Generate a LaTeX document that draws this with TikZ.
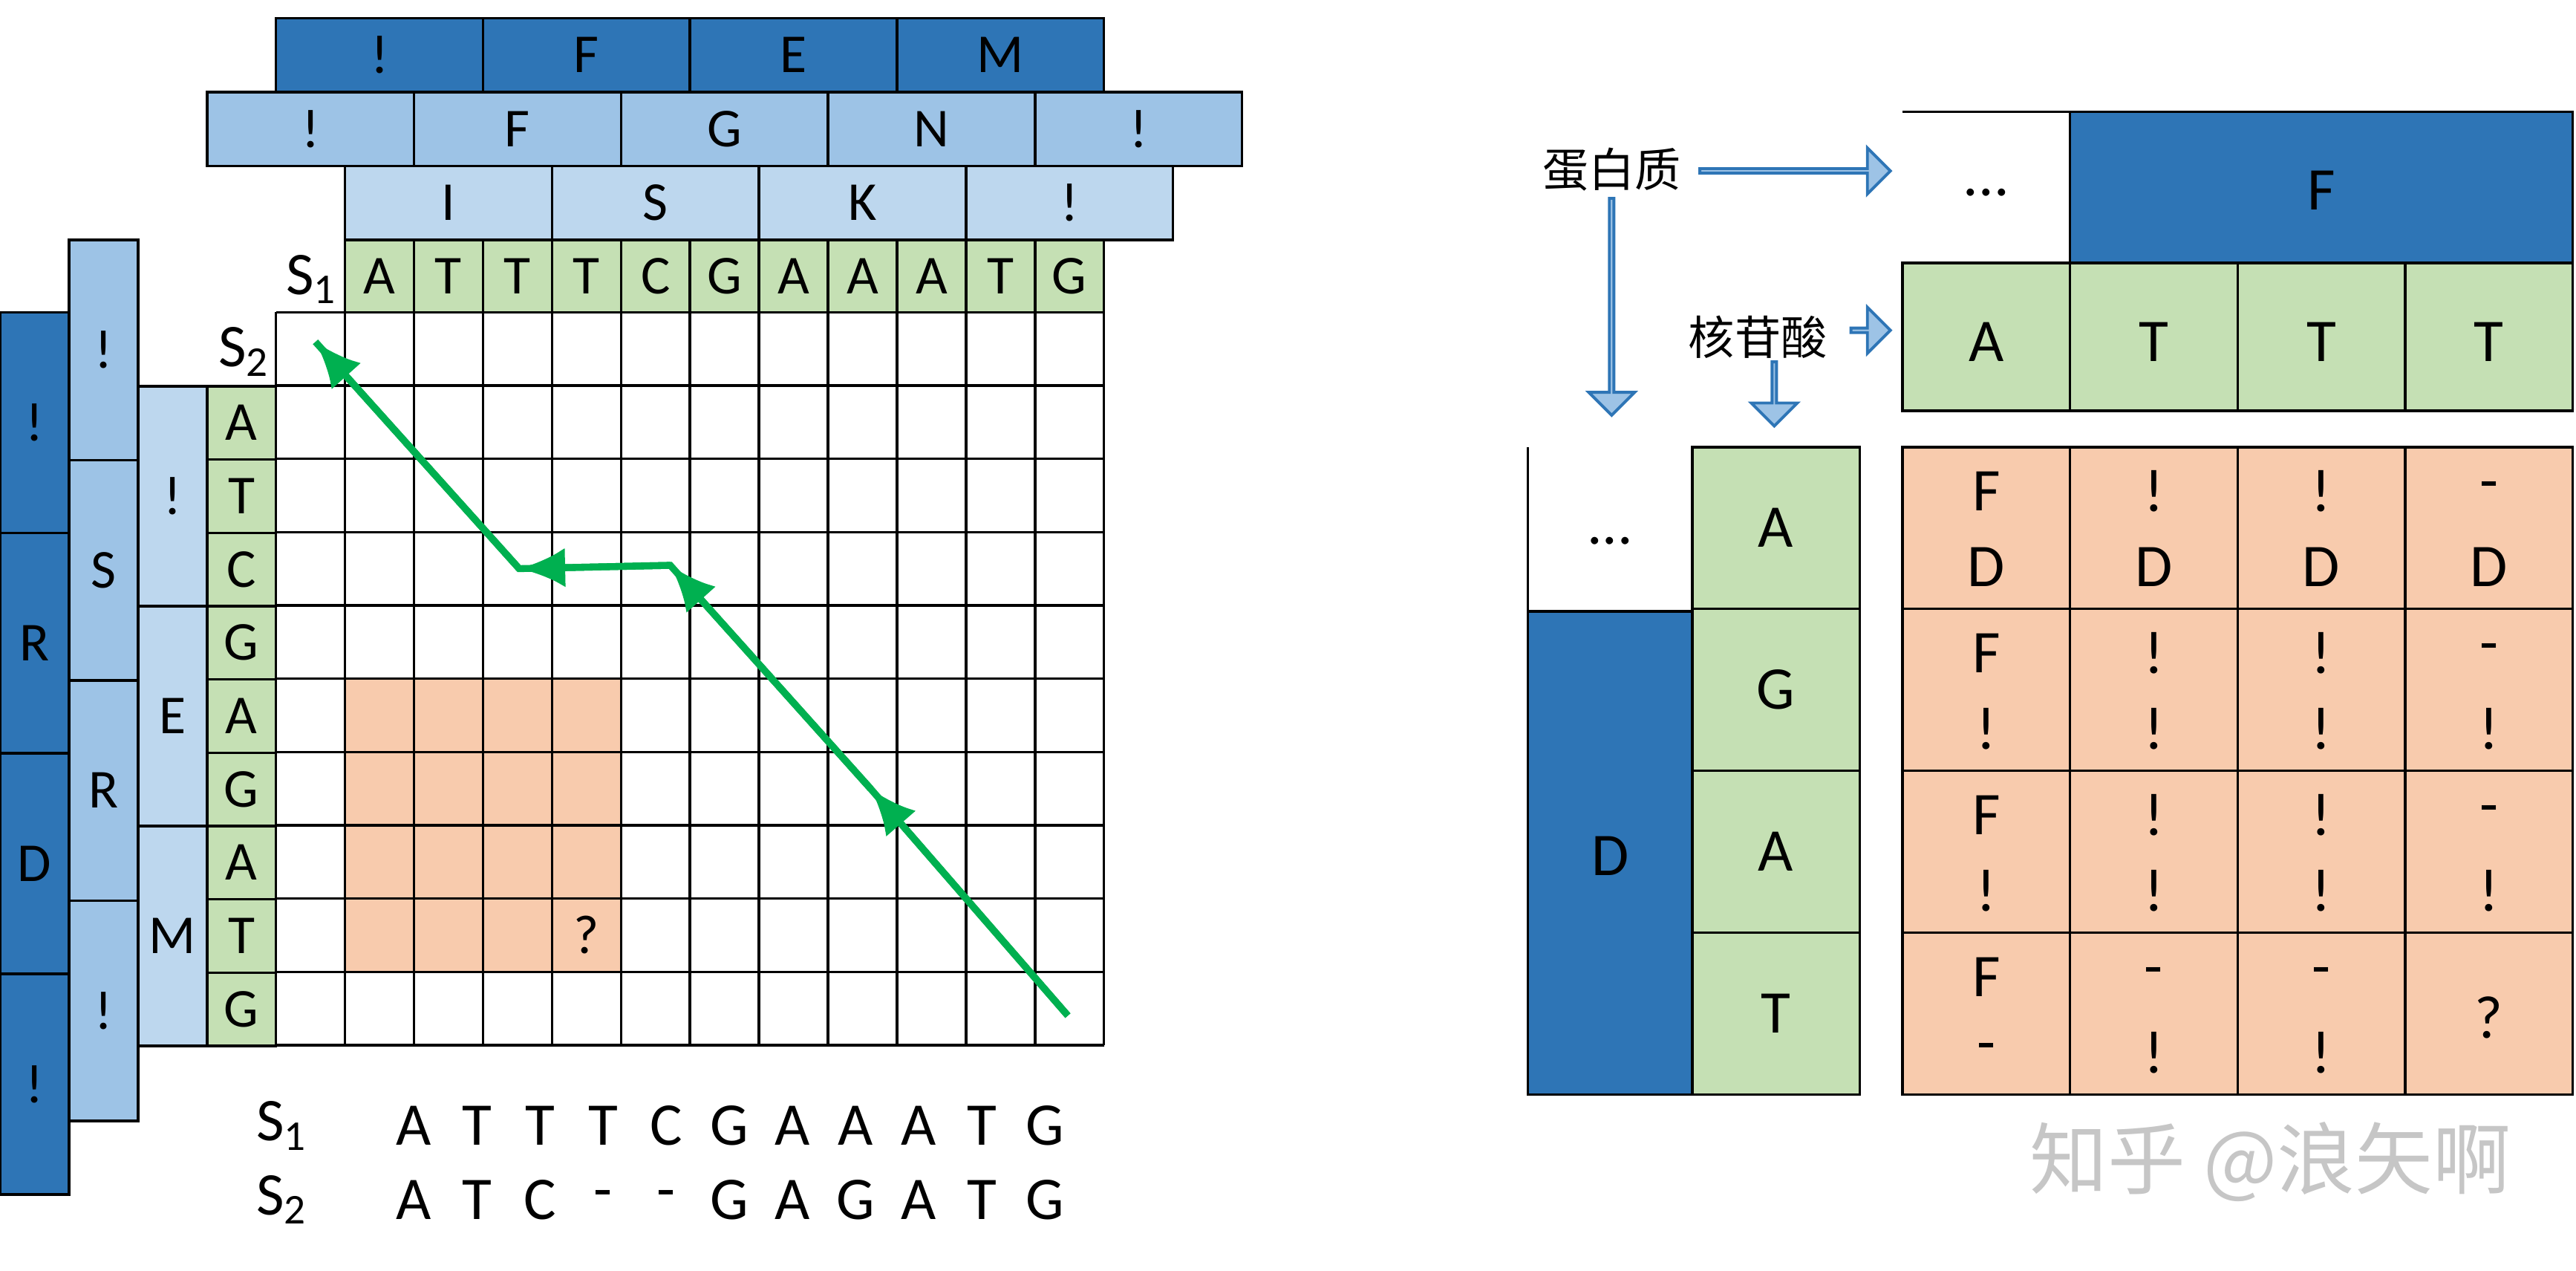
\documentclass[tikz,border=0pt]{standalone}
\usepackage{fontspec}
\setmainfont{Carlito}
\newfontfamily\cjk{Noto Sans CJK SC}
\usetikzlibrary{shapes.arrows,arrows.meta}
\definecolor{dk}{HTML}{2E75B6}
\definecolor{md}{HTML}{9DC3E6}
\definecolor{lt}{HTML}{BDD7EE}
\definecolor{gr}{HTML}{C5E0B4}
\definecolor{og}{HTML}{F8CBAD}
\definecolor{ar}{HTML}{00B050}
\newcommand\bx[6]{\filldraw[box,fill=#5] (#1,#2) rectangle (#3,#4); \path ({(#1+#3)/2},{(#2+#4)/2}) node[txt] {#6};}
\begin{document}
\begin{tikzpicture}[x=0.1mm,y=-0.1mm,
  box/.style={draw=black,line width=0.45pt},
  txt/.style={font=\fontsize{9.5}{10}\selectfont},
  btxt/.style={font=\fontsize{10.5}{11}\selectfont},
  gline/.style={draw=ar,line width=1.2pt},
  garrow/.style={draw=ar,line width=1.2pt,-{Latex[length=2.8mm,width=2.4mm]}},
  barrow/.style={single arrow,draw=dk,fill=md,line width=0.5pt,inner sep=0pt,minimum width=2.8mm,single arrow head extend=0.8mm,single arrow head indent=0pt},
  lbl/.style={font=\cjk\fontsize{8}{9}\selectfont}]
\useasboundingbox (0,0) rectangle (1568,773);
% ---- left: top protein rows
\foreach \t [count=\i from 0] in {!,F,E,M} {\bx{168+126*\i}{11}{294+126*\i}{56}{dk}{\t}}
\foreach \t [count=\i from 0] in {!,F,G,N,!} {\bx{126+126*\i}{56}{252+126*\i}{101}{md}{\t}}
\foreach \t [count=\i from 0] in {I,S,K,!} {\bx{210+126*\i}{101}{336+126*\i}{146}{lt}{\t}}
% S1 row
\foreach \t [count=\i from 0] in {A,T,T,T,C,G,A,A,A,T,G} {\bx{210+42*\i}{146}{252+42*\i}{190}{gr}{\t}}
% grid
\foreach \i in {0,...,12} \draw[box] (168+42*\i,190) -- (168+42*\i,636);
\foreach \j in {0,...,10} \draw[box] (168,190+44.6*\j) -- (672,190+44.6*\j);
% orange
\foreach \i in {0,...,3} \foreach \j in {0,...,3} {\filldraw[box,fill=og] (210+42*\i,413+44.6*\j) rectangle (252+42*\i,457.6+44.6*\j);}
\node[txt] (q) at (357,569) {?};
% S2 column
\foreach \t [count=\j from 0] in {A,T,C,G,A,G,A,T,G} {\bx{126}{235+44.6*\j}{168}{279.6+44.6*\j}{gr}{\t}}
% left vertical columns
\foreach \t [count=\j from 0] in {!,E,M} {\bx{84}{235+133.8*\j}{126}{368.8+133.8*\j}{lt}{\t}}
\foreach \t [count=\j from 0] in {!,S,R,!} {\bx{42}{146+134*\j}{84}{280+134*\j}{md}{\t}}
\foreach \t [count=\j from 0] in {!,R,D,!} {\bx{0}{190+134.2*\j}{42}{324.2+134.2*\j}{dk}{\t}}
% labels
\node[btxt] (s1) at (190,170) {S\textsubscript{1}};
\node[btxt] (s2) at (149,214) {S\textsubscript{2}};
% green path
\coordinate (p0) at (650,618);
\coordinate (p1) at (530,480);
\coordinate (p2) at (408,344);
\coordinate (p3) at (316,346);
\coordinate (p4) at (192,208);
\draw[gline] (p0) -- (p1) -- (p2) -- (p3) -- (p4);
\draw[garrow] (p0) -- (p1);
\draw[garrow] (p1) -- (p2);
\draw[garrow] (p2) -- (p3);
\draw[garrow] (p3) -- (p4);
% alignment text
\node[btxt] (a1) at (172,685) {S\textsubscript{1}};
\node[btxt] (a2) at (172,730) {S\textsubscript{2}};
\foreach \t [count=\i from 0] in {A,T,T,T,C,G,A,A,A,T,G} {\node[btxt] at (252+38.4*\i,685) {\t};}
\foreach \t [count=\i from 0] in {A,T,C,-,-,G,A,G,A,T,G} {\node[btxt] at (252+38.4*\i,730) {\t};}
% ---- right
\draw[box] (1158,68) -- (1566,68);
\node[btxt] (dots1) at (1209,117) {...};
\filldraw[box,fill=dk] (1260,68) rectangle (1566,160);
\node[btxt] (F) at (1413,116) {F};
\foreach \t [count=\i from 0] in {A,T,T,T} {\filldraw[box,fill=gr] (1158+102*\i,160) rectangle (1260+102*\i,250); \node[btxt] at (1209+102*\i,208) {\t};}
\draw[box] (930,272) -- (930,372);
\node[btxt] (dots2) at (980,329) {...};
\filldraw[box,fill=dk] (930,372) rectangle (1030,666);
\node[btxt] (D) at (980,521) {D};
\foreach \t [count=\j from 0] in {A,G,A,T} {\filldraw[box,fill=gr] (1030,272+98.5*\j) rectangle (1132,370.5+98.5*\j); \node[btxt] at (1081,321+98.5*\j) {\t};}
\foreach \a/\b [count=\k from 0] in {F/D,!/D,!/D,-/D,F/!,!/!,!/!,-/!,F/!,!/!,!/!,-/!,F/-,-/!,-/!,?/} {
  \pgfmathtruncatemacro\ci{mod(\k,4)}
  \pgfmathtruncatemacro\rj{div(\k,4)}
  \filldraw[box,fill=og] (1158+102*\ci,272+98.5*\rj) rectangle (1260+102*\ci,370.5+98.5*\rj);
  \ifnum\k=15
    \node[btxt] at (1209+102*\ci,619) {?};
  \else
    \node[btxt] at (1209+102*\ci,299+98.5*\rj) {\a};
    \node[btxt] at (1209+102*\ci,345+98.5*\rj) {\b};
  \fi
}
% labels and block arrows
\node[lbl] (prot) at (981,103) {蛋白质};
\node[lbl] (nuc) at (1070,205) {核苷酸};
\node[barrow,minimum height=11.6mm] (ar1) at (1092,104) {};
\node[barrow,minimum height=13.2mm,shape border rotate=270] (ar2) at (981,186) {};
\node[barrow,minimum height=2.4mm] (ar3) at (1138,201) {};
\node[barrow,minimum height=3.9mm,shape border rotate=270] (ar4) at (1080,239) {};
% watermark
\node[font=\cjk\fontsize{13.5}{14}\selectfont,text=gray!45] (wm) at (1382,707) {知乎 @浪矢啊};
\end{tikzpicture}
\end{document}
